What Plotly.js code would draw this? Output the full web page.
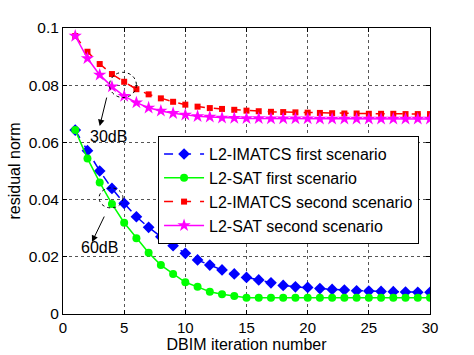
<!DOCTYPE html>
<html><head><meta charset="utf-8">
<script src="https://cdn.plot.ly/plotly-3.0.1.min.js"></script>
<style>html,body{margin:0;padding:0;background:#fff}#chart{width:474px;height:355px}</style>
</head><body><div id="chart"></div>
<script>
const iterations = Array.from({length:30},(_,i)=>i+1);
const imatcsFirst = [0.0643,0.0571,0.0500,0.0439,0.0387,0.0340,0.0303,0.0270,0.0239,0.0212,0.0189,0.0171,0.0154,0.0140,0.0128,0.0119,0.0109,0.0100,0.0095,0.0093,0.0089,0.0086,0.0084,0.0081,0.0080,0.0079,0.0078,0.0077,0.0076,0.0076];
const satFirst = [0.0643,0.0544,0.0460,0.0385,0.0319,0.0265,0.0214,0.0171,0.0140,0.0111,0.0095,0.0078,0.0069,0.0063,0.0057,0.0057,0.0057,0.0057,0.0057,0.0057,0.0057,0.0057,0.0057,0.0057,0.0057,0.0057,0.0057,0.0057,0.0057,0.0057];
const imatcsSecond = [0.0972,0.0917,0.0874,0.0839,0.0812,0.0786,0.0768,0.0754,0.0742,0.0732,0.0725,0.0720,0.0717,0.0714,0.0711,0.0709,0.0707,0.0706,0.0705,0.0704,0.0703,0.0702,0.0701,0.0701,0.0700,0.0700,0.0700,0.0699,0.0699,0.0699];
const satSecond = [0.0972,0.0894,0.0836,0.0795,0.0762,0.0739,0.0721,0.0710,0.0702,0.0696,0.0691,0.0689,0.0686,0.0685,0.0684,0.0684,0.0683,0.0683,0.0683,0.0683,0.0682,0.0682,0.0682,0.0682,0.0682,0.0682,0.0682,0.0682,0.0682,0.0682];
const seriesNames = ['L2-IMATCS first scenario','L2-SAT first scenario','L2-IMATCS second scenario','L2-SAT second scenario'];
const xTicks = [0,5,10,15,20,25,30];
const yTicks = [0,0.02,0.04,0.06,0.08,0.1];
const yTickText = ['0','0.02','0.04','0.06','0.08','0.1'];
const snrLabels = ['30dB','60dB'];

const traces = [
 {x:iterations,y:imatcsFirst,name:seriesNames[0],mode:'lines+markers',line:{color:'#0000ff',dash:'dash',width:1.5},marker:{symbol:'diamond',size:9,color:'#0000ff'}},
 {x:iterations,y:satFirst,name:seriesNames[1],mode:'lines+markers',line:{color:'#00ff00',width:1.5},marker:{symbol:'circle',size:8,color:'#00ff00'}},
 {x:iterations,y:imatcsSecond,name:seriesNames[2],mode:'lines+markers',line:{color:'#ff0000',dash:'dash',width:1.5},marker:{symbol:'square',size:6,color:'#ff0000'}},
 {x:iterations,y:satSecond,name:seriesNames[3],mode:'lines+markers',line:{color:'#ff00ff',width:1.5},marker:{symbol:'star',size:10,color:'#ff00ff'}}
];
const fam = 'Liberation Sans, Arial, sans-serif';
const arrowStyle = {showarrow:true,arrowhead:2,arrowsize:1.3,arrowwidth:1,arrowcolor:'#000',axref:'x',ayref:'y',xref:'x',yref:'y',text:''};
const layout = {
 width:474,height:355,
 margin:{l:63,r:44,t:28,b:41},
 paper_bgcolor:'#fff',plot_bgcolor:'#fff',
 font:{family:fam,size:15,color:'#000'},
 showlegend:true,
 legend:{x:0.259,y:0.622,xanchor:'left',yanchor:'top',bgcolor:'#fff',bordercolor:'#000',borderwidth:1,font:{family:fam,size:16},tracegroupgap:0,itemwidth:40},
 xaxis:{range:[0,30],tickvals:xTicks,ticks:'inside',ticklen:4,tickcolor:'#000',showline:true,linecolor:'#000',linewidth:1,mirror:'ticks',
   showgrid:true,gridcolor:'#555',griddash:'dot',gridwidth:1,zeroline:false,
   title:{text:'DBIM iteration number',font:{size:16},standoff:0},tickfont:{size:15}},
 yaxis:{range:[0,0.1],tickvals:yTicks,ticktext:yTickText,ticks:'inside',ticklen:4,tickcolor:'#000',showline:true,linecolor:'#000',linewidth:1,mirror:'ticks',
   showgrid:true,gridcolor:'#555',griddash:'dot',gridwidth:1,zeroline:false,
   title:{text:'residual norm',font:{size:16},standoff:4},tickfont:{size:15.5}},
 shapes:[
  {type:'circle',xref:'x',yref:'y',x0:3.8,x1:6.0,y0:0.0757,y1:0.0845,line:{color:'#000',width:1,dash:'dot'}},
  {type:'circle',xref:'x',yref:'y',x0:2.95,x1:4.9,y0:0.0371,y1:0.0441,line:{color:'#000',width:1,dash:'dot'}}
 ],
 annotations:[
  Object.assign({},arrowStyle,{x:3.0,y:0.0657,ax:3.6,ay:0.0762}),
  {x:3.75,y:0.0622,xref:'x',yref:'y',text:snrLabels[0],showarrow:false,font:{size:16}},
  Object.assign({},arrowStyle,{x:2.37,y:0.0252,ax:3.43,ay:0.0346}),
  {x:3.0,y:0.0231,xref:'x',yref:'y',text:snrLabels[1],showarrow:false,font:{size:16}}
 ]
};
Plotly.newPlot('chart',traces,layout,{displayModeBar:false,staticPlot:true});
</script></body></html>
